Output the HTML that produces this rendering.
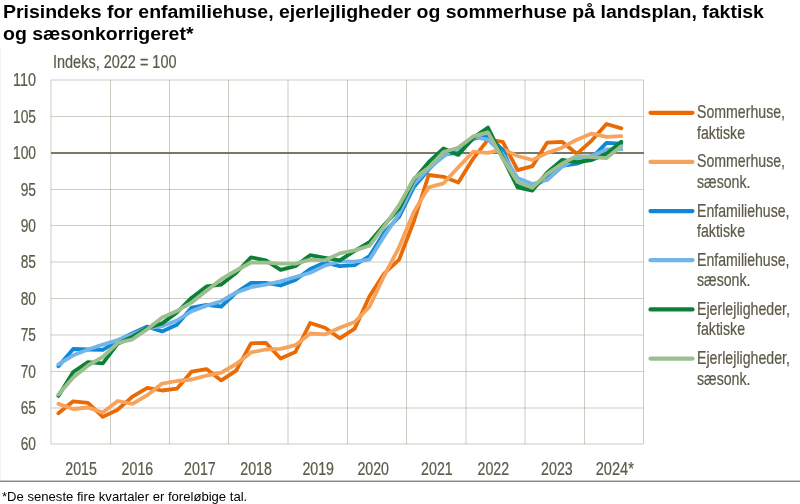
<!DOCTYPE html>
<html lang="da"><head><meta charset="utf-8"><title>Prisindeks</title>
<style>
html,body{margin:0;padding:0;background:#fff;}
body{width:800px;height:504px;overflow:hidden;position:relative;font-family:"Liberation Sans",Arial,sans-serif;}
h1{position:absolute;left:2.8px;top:1.4px;margin:0;font-size:17.5px;line-height:22.1px;font-weight:bold;color:#000;white-space:nowrap;transform:scaleX(1.113);transform-origin:0 0;}
svg{position:absolute;left:0;top:0;}
.n{font-family:"Liberation Sans",Arial,sans-serif;font-size:17.8px;fill:#5c5a48;stroke:#5c5a48;stroke-width:0.22px;}
.foot{position:absolute;left:2px;top:489px;font-size:13.1px;line-height:15px;color:#000;white-space:nowrap;}
</style></head><body>
<h1>Prisindeks for enfamiliehuse, ejerlejligheder og sommerhuse på landsplan, faktisk<br>og sæsonkorrigeret*</h1>
<svg width="800" height="504" viewBox="0 0 800 504">
<rect x="0" y="49" width="1" height="432" fill="#f3f3f3"/>
<rect x="0" y="480.55" width="800" height="1.45" fill="#7c8c95"/>
<g stroke="#9c9c88" stroke-width="1" fill="none" stroke-opacity="0.5"><g><line x1="51.0" y1="80.0" x2="51.0" y2="444.0"/></g><g><line x1="110.5" y1="80.0" x2="110.5" y2="444.0"/></g><g><line x1="169.5" y1="80.0" x2="169.5" y2="444.0"/></g><g><line x1="228.5" y1="80.0" x2="228.5" y2="444.0"/></g><g><line x1="288.0" y1="80.0" x2="288.0" y2="444.0"/></g><g><line x1="347.5" y1="80.0" x2="347.5" y2="444.0"/></g><g><line x1="406.5" y1="80.0" x2="406.5" y2="444.0"/></g><g><line x1="466.0" y1="80.0" x2="466.0" y2="444.0"/></g><g><line x1="525.0" y1="80.0" x2="525.0" y2="444.0"/></g><g><line x1="584.5" y1="80.0" x2="584.5" y2="444.0"/></g><g><line x1="643.5" y1="80.0" x2="643.5" y2="444.0"/></g><g><line x1="51.0" y1="80.0" x2="643.5" y2="80.0"/></g><g><line x1="51.0" y1="116.5" x2="643.5" y2="116.5"/></g><g><line x1="51.0" y1="189.5" x2="643.5" y2="189.5"/></g><g><line x1="51.0" y1="225.5" x2="643.5" y2="225.5"/></g><g><line x1="51.0" y1="262.0" x2="643.5" y2="262.0"/></g><g><line x1="51.0" y1="298.5" x2="643.5" y2="298.5"/></g><g><line x1="51.0" y1="335.0" x2="643.5" y2="335.0"/></g><g><line x1="51.0" y1="371.5" x2="643.5" y2="371.5"/></g><g><line x1="51.0" y1="408.0" x2="643.5" y2="408.0"/></g><g><line x1="51.0" y1="444.0" x2="643.5" y2="444.0"/></g></g>
<line x1="51.00" y1="153.00" x2="644.00" y2="153.00" stroke="#7a7867" stroke-width="2"/>
<polyline fill="none" stroke="#EA6A05" stroke-width="3.8" stroke-linejoin="round" stroke-linecap="round" points="58.4,413.3 73.2,401.3 88.0,402.8 102.8,416.9 117.7,409.7 132.5,396.6 147.3,387.9 162.1,390.5 176.9,388.7 191.7,371.6 206.5,369.1 221.3,380.4 236.2,370.7 251.0,343.3 265.8,342.8 280.6,358.5 295.4,352.0 310.2,323.0 325.0,327.8 339.8,338.3 354.7,328.6 369.5,296.3 384.3,273.4 399.1,259.6 413.9,221.2 428.7,175.0 443.5,176.8 458.3,182.6 473.2,158.6 488.0,139.7 502.8,141.8 517.6,170.2 532.4,166.2 547.2,142.6 562.0,141.8 576.8,153.8 591.7,140.6 606.5,124.0 621.3,128.4"/>
<polyline fill="none" stroke="#F6A35C" stroke-width="3.8" stroke-linejoin="round" stroke-linecap="round" points="58.4,403.9 73.2,409.0 88.0,407.5 102.8,412.6 117.7,401.0 132.5,403.9 147.3,395.2 162.1,383.6 176.9,381.0 191.7,379.5 206.5,375.6 221.3,372.7 236.2,364.0 251.0,352.4 265.8,349.5 280.6,348.8 295.4,345.2 310.2,333.5 325.0,334.4 339.8,327.8 354.7,322.0 369.5,306.7 384.3,275.5 399.1,247.3 413.9,211.7 428.7,187.3 443.5,183.3 458.3,167.3 473.2,151.7 488.0,152.8 502.8,149.1 517.6,156.0 532.4,160.0 547.2,152.9 562.0,147.7 576.8,139.7 591.7,133.6 606.5,136.8 621.3,136.2"/>
<polyline fill="none" stroke="#0C88D4" stroke-width="3.8" stroke-linejoin="round" stroke-linecap="round" points="58.4,366.2 73.2,349.0 88.0,349.5 102.8,349.9 117.7,340.8 132.5,333.3 147.3,326.6 162.1,331.4 176.9,324.8 191.7,307.5 206.5,304.8 221.3,306.5 236.2,292.5 251.0,282.8 265.8,282.8 280.6,285.5 295.4,279.9 310.2,269.0 325.0,262.6 339.8,266.1 354.7,265.1 369.5,256.0 384.3,232.4 399.1,216.8 413.9,187.0 428.7,169.5 443.5,154.4 458.3,152.8 473.2,138.9 488.0,136.0 502.8,149.8 517.6,184.0 532.4,187.3 547.2,178.2 562.0,165.9 576.8,163.7 591.7,158.1 606.5,142.9 621.3,143.6"/>
<polyline fill="none" stroke="#74B4E8" stroke-width="3.8" stroke-linejoin="round" stroke-linecap="round" points="58.4,364.4 73.2,355.3 88.0,349.5 102.8,344.6 117.7,340.1 132.5,334.3 147.3,328.0 162.1,326.3 176.9,320.5 191.7,311.1 206.5,305.6 221.3,301.2 236.2,292.5 251.0,287.2 265.8,284.6 280.6,281.3 295.4,277.0 310.2,272.7 325.0,265.6 339.8,261.3 354.7,261.6 369.5,259.6 384.3,235.9 399.1,213.9 413.9,183.7 428.7,168.4 443.5,156.4 458.3,147.7 473.2,136.8 488.0,139.7 502.8,154.2 517.6,177.9 532.4,184.0 547.2,180.0 562.0,166.9 576.8,158.1 591.7,155.9 606.5,149.4 621.3,149.4"/>
<polyline fill="none" stroke="#0A8136" stroke-width="3.8" stroke-linejoin="round" stroke-linecap="round" points="58.4,395.9 73.2,372.0 88.0,362.1 102.8,363.3 117.7,343.7 132.5,336.7 147.3,328.0 162.1,323.4 176.9,312.5 191.7,297.7 206.5,286.4 221.3,284.6 236.2,272.7 251.0,257.4 265.8,260.3 280.6,269.8 295.4,266.1 310.2,255.2 325.0,257.8 339.8,260.3 354.7,250.9 369.5,242.2 384.3,224.8 399.1,208.8 413.9,179.7 428.7,162.2 443.5,148.4 458.3,154.9 473.2,137.8 488.0,127.6 502.8,157.9 517.6,187.3 532.4,190.6 547.2,172.4 562.0,160.0 576.8,162.2 591.7,160.0 606.5,153.8 621.3,141.8"/>
<polyline fill="none" stroke="#9DBF90" stroke-width="3.8" stroke-linejoin="round" stroke-linecap="round" points="58.4,394.5 73.2,377.4 88.0,365.5 102.8,356.8 117.7,343.0 132.5,339.3 147.3,329.2 162.1,317.6 176.9,311.1 191.7,302.4 206.5,290.8 221.3,279.2 236.2,270.5 251.0,262.5 265.8,262.7 280.6,263.6 295.4,263.6 310.2,259.6 325.0,260.3 339.8,253.4 354.7,250.4 369.5,245.8 384.3,226.2 399.1,205.2 413.9,178.6 428.7,167.5 443.5,152.0 458.3,147.7 473.2,136.4 488.0,132.4 502.8,158.9 517.6,181.9 532.4,187.7 547.2,173.9 562.0,163.7 576.8,155.9 591.7,157.1 606.5,158.1 621.3,146.2"/>
<text class="n" x="36.0" y="86.0" text-anchor="end" textLength="23.0" lengthAdjust="spacingAndGlyphs">110</text>
<text class="n" x="36.0" y="122.5" text-anchor="end" textLength="23.0" lengthAdjust="spacingAndGlyphs">105</text>
<text class="n" x="36.0" y="159.0" text-anchor="end" textLength="23.0" lengthAdjust="spacingAndGlyphs">100</text>
<text class="n" x="36.0" y="195.5" text-anchor="end" textLength="15.3" lengthAdjust="spacingAndGlyphs">95</text>
<text class="n" x="36.0" y="231.5" text-anchor="end" textLength="15.3" lengthAdjust="spacingAndGlyphs">90</text>
<text class="n" x="36.0" y="268.0" text-anchor="end" textLength="15.3" lengthAdjust="spacingAndGlyphs">85</text>
<text class="n" x="36.0" y="304.5" text-anchor="end" textLength="15.3" lengthAdjust="spacingAndGlyphs">80</text>
<text class="n" x="36.0" y="341.0" text-anchor="end" textLength="15.3" lengthAdjust="spacingAndGlyphs">75</text>
<text class="n" x="36.0" y="377.5" text-anchor="end" textLength="15.3" lengthAdjust="spacingAndGlyphs">70</text>
<text class="n" x="36.0" y="414.0" text-anchor="end" textLength="15.3" lengthAdjust="spacingAndGlyphs">65</text>
<text class="n" x="36.0" y="450.0" text-anchor="end" textLength="15.3" lengthAdjust="spacingAndGlyphs">60</text>
<text class="n" x="65.3" y="475.0" text-anchor="start" textLength="31.6" lengthAdjust="spacingAndGlyphs">2015</text>
<text class="n" x="121.6" y="475.0" text-anchor="start" textLength="31.6" lengthAdjust="spacingAndGlyphs">2016</text>
<text class="n" x="184.1" y="475.0" text-anchor="start" textLength="31.6" lengthAdjust="spacingAndGlyphs">2017</text>
<text class="n" x="240.3" y="475.0" text-anchor="start" textLength="31.6" lengthAdjust="spacingAndGlyphs">2018</text>
<text class="n" x="302.4" y="475.0" text-anchor="start" textLength="31.6" lengthAdjust="spacingAndGlyphs">2019</text>
<text class="n" x="357.4" y="475.0" text-anchor="start" textLength="31.6" lengthAdjust="spacingAndGlyphs">2020</text>
<text class="n" x="421.1" y="475.0" text-anchor="start" textLength="31.6" lengthAdjust="spacingAndGlyphs">2021</text>
<text class="n" x="477.5" y="475.0" text-anchor="start" textLength="31.6" lengthAdjust="spacingAndGlyphs">2022</text>
<text class="n" x="541.1" y="475.0" text-anchor="start" textLength="31.6" lengthAdjust="spacingAndGlyphs">2023</text>
<text class="n" x="595.7" y="475.0" text-anchor="start" textLength="38.2" lengthAdjust="spacingAndGlyphs">2024*</text>
<text class="n" x="53.0" y="68.0" text-anchor="start" textLength="123.5" lengthAdjust="spacingAndGlyphs">Indeks, 2022 = 100</text>
<line x1="650.5" y1="112.8" x2="692.5" y2="112.8" stroke="#EA6A05" stroke-width="4.2" stroke-linecap="round"/>
<text class="n" x="697.0" y="118.3" text-anchor="start" textLength="88.0" lengthAdjust="spacingAndGlyphs">Sommerhuse,</text>
<text class="n" x="697.0" y="138.8" text-anchor="start" textLength="48.0" lengthAdjust="spacingAndGlyphs">faktiske</text>
<line x1="650.5" y1="161.9" x2="692.5" y2="161.9" stroke="#F6A35C" stroke-width="4.2" stroke-linecap="round"/>
<text class="n" x="697.0" y="167.4" text-anchor="start" textLength="88.0" lengthAdjust="spacingAndGlyphs">Sommerhuse,</text>
<text class="n" x="697.0" y="187.9" text-anchor="start" textLength="53.5" lengthAdjust="spacingAndGlyphs">sæsonk.</text>
<line x1="650.5" y1="211.1" x2="692.5" y2="211.1" stroke="#0C88D4" stroke-width="4.2" stroke-linecap="round"/>
<text class="n" x="697.0" y="216.6" text-anchor="start" textLength="92.5" lengthAdjust="spacingAndGlyphs">Enfamiliehuse,</text>
<text class="n" x="697.0" y="237.1" text-anchor="start" textLength="48.0" lengthAdjust="spacingAndGlyphs">faktiske</text>
<line x1="650.5" y1="260.2" x2="692.5" y2="260.2" stroke="#74B4E8" stroke-width="4.2" stroke-linecap="round"/>
<text class="n" x="697.0" y="265.8" text-anchor="start" textLength="92.5" lengthAdjust="spacingAndGlyphs">Enfamiliehuse,</text>
<text class="n" x="697.0" y="286.2" text-anchor="start" textLength="53.5" lengthAdjust="spacingAndGlyphs">sæsonk.</text>
<line x1="650.5" y1="309.4" x2="692.5" y2="309.4" stroke="#0A8136" stroke-width="4.2" stroke-linecap="round"/>
<text class="n" x="697.0" y="314.9" text-anchor="start" textLength="93.0" lengthAdjust="spacingAndGlyphs">Ejerlejligheder,</text>
<text class="n" x="697.0" y="335.4" text-anchor="start" textLength="48.0" lengthAdjust="spacingAndGlyphs">faktiske</text>
<line x1="650.5" y1="358.6" x2="692.5" y2="358.6" stroke="#9DBF90" stroke-width="4.2" stroke-linecap="round"/>
<text class="n" x="697.0" y="364.1" text-anchor="start" textLength="93.0" lengthAdjust="spacingAndGlyphs">Ejerlejligheder,</text>
<text class="n" x="697.0" y="384.6" text-anchor="start" textLength="53.5" lengthAdjust="spacingAndGlyphs">sæsonk.</text>
</svg>
<div class="foot">*De seneste fire kvartaler er foreløbige tal.</div>
</body></html>
